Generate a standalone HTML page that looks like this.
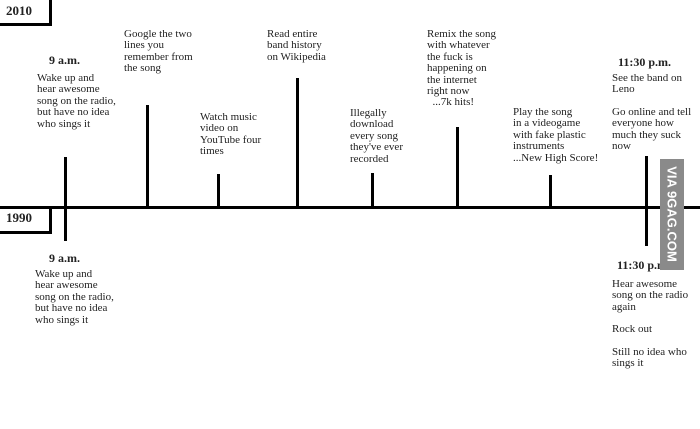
<!DOCTYPE html><html><head><style>
body{margin:0;width:700px;height:429px;background:#fff;position:relative;overflow:hidden;font-family:"Liberation Serif",serif;color:#222}
.l{position:absolute;background:#000}
.t{position:absolute;font-size:11px;line-height:11.4px;white-space:nowrap}
.b{font-weight:bold;font-size:12px}
</style></head><body>
<div class="l" style="left:0;top:206px;width:700px;height:3px"></div>
<div class="l" style="left:49px;top:0;width:3px;height:26px"></div>
<div class="l" style="left:0;top:23px;width:52px;height:3px"></div>
<div class="t b" style="left:6px;top:5px;font-size:13px">2010</div>
<div class="l" style="left:49px;top:208px;width:3px;height:26px"></div>
<div class="l" style="left:0;top:231px;width:52px;height:3px"></div>
<div class="t b" style="left:6px;top:212px;font-size:13px">1990</div>
<div class="l" style="left:64px;top:157px;width:3px;height:84px"></div>
<div class="l" style="left:146px;top:105px;width:3px;height:102px"></div>
<div class="l" style="left:217px;top:174px;width:3px;height:33px"></div>
<div class="l" style="left:296px;top:78px;width:3px;height:129px"></div>
<div class="l" style="left:371px;top:173px;width:3px;height:34px"></div>
<div class="l" style="left:456px;top:127px;width:3px;height:80px"></div>
<div class="l" style="left:549px;top:175px;width:3px;height:32px"></div>
<div class="l" style="left:645px;top:156px;width:3px;height:90px"></div>
<div class="t b" style="left:49px;top:55px">9 a.m.</div>
<div class="t" style="left:37px;top:73px">Wake up and<br>hear awesome<br>song on the radio,<br>but have no idea<br>who sings it</div>
<div class="t" style="left:124px;top:29px">Google the two<br>lines you<br>remember from<br>the song</div>
<div class="t" style="left:200px;top:112px">Watch music<br>video on<br>YouTube four<br>times</div>
<div class="t" style="left:267px;top:29px">Read entire<br>band history<br>on Wikipedia</div>
<div class="t" style="left:350px;top:108px">Illegally<br>download<br>every song<br>they've ever<br>recorded</div>
<div class="t" style="left:427px;top:29px">Remix the song<br>with whatever<br>the fuck is<br>happening on<br>the internet<br>right now<br>&nbsp;&nbsp;...7k hits!</div>
<div class="t" style="left:513px;top:107px">Play the song<br>in a videogame<br>with fake plastic<br>instruments<br>...New High Score!</div>
<div class="t b" style="left:618px;top:57px">11:30 p.m.</div>
<div class="t" style="left:612px;top:73px">See the band on<br>Leno</div>
<div class="t" style="left:612px;top:107px">Go online and tell<br>everyone how<br>much they suck<br>now</div>
<div class="t b" style="left:49px;top:253px">9 a.m.</div>
<div class="t" style="left:35px;top:269px">Wake up and<br>hear awesome<br>song on the radio,<br>but have no idea<br>who sings it</div>
<div class="t b" style="left:617px;top:260px">11:30 p.m.</div>
<div class="t" style="left:612px;top:279px">Hear awesome<br>song on the radio<br>again</div>
<div class="t" style="left:612px;top:324px">Rock out</div>
<div class="t" style="left:612px;top:347px">Still no idea who<br>sings it</div>
<div style="position:absolute;left:660px;top:159px;width:24px;height:111px;background:#8a8a8a;z-index:2"></div>
<div style="position:absolute;left:672px;top:214px;transform:translate(-50%,-50%) rotate(90deg);color:#fff;font-family:'Liberation Sans',sans-serif;font-weight:bold;font-size:13px;white-space:nowrap;z-index:3">VIA 9GAG.COM</div>
</body></html>
